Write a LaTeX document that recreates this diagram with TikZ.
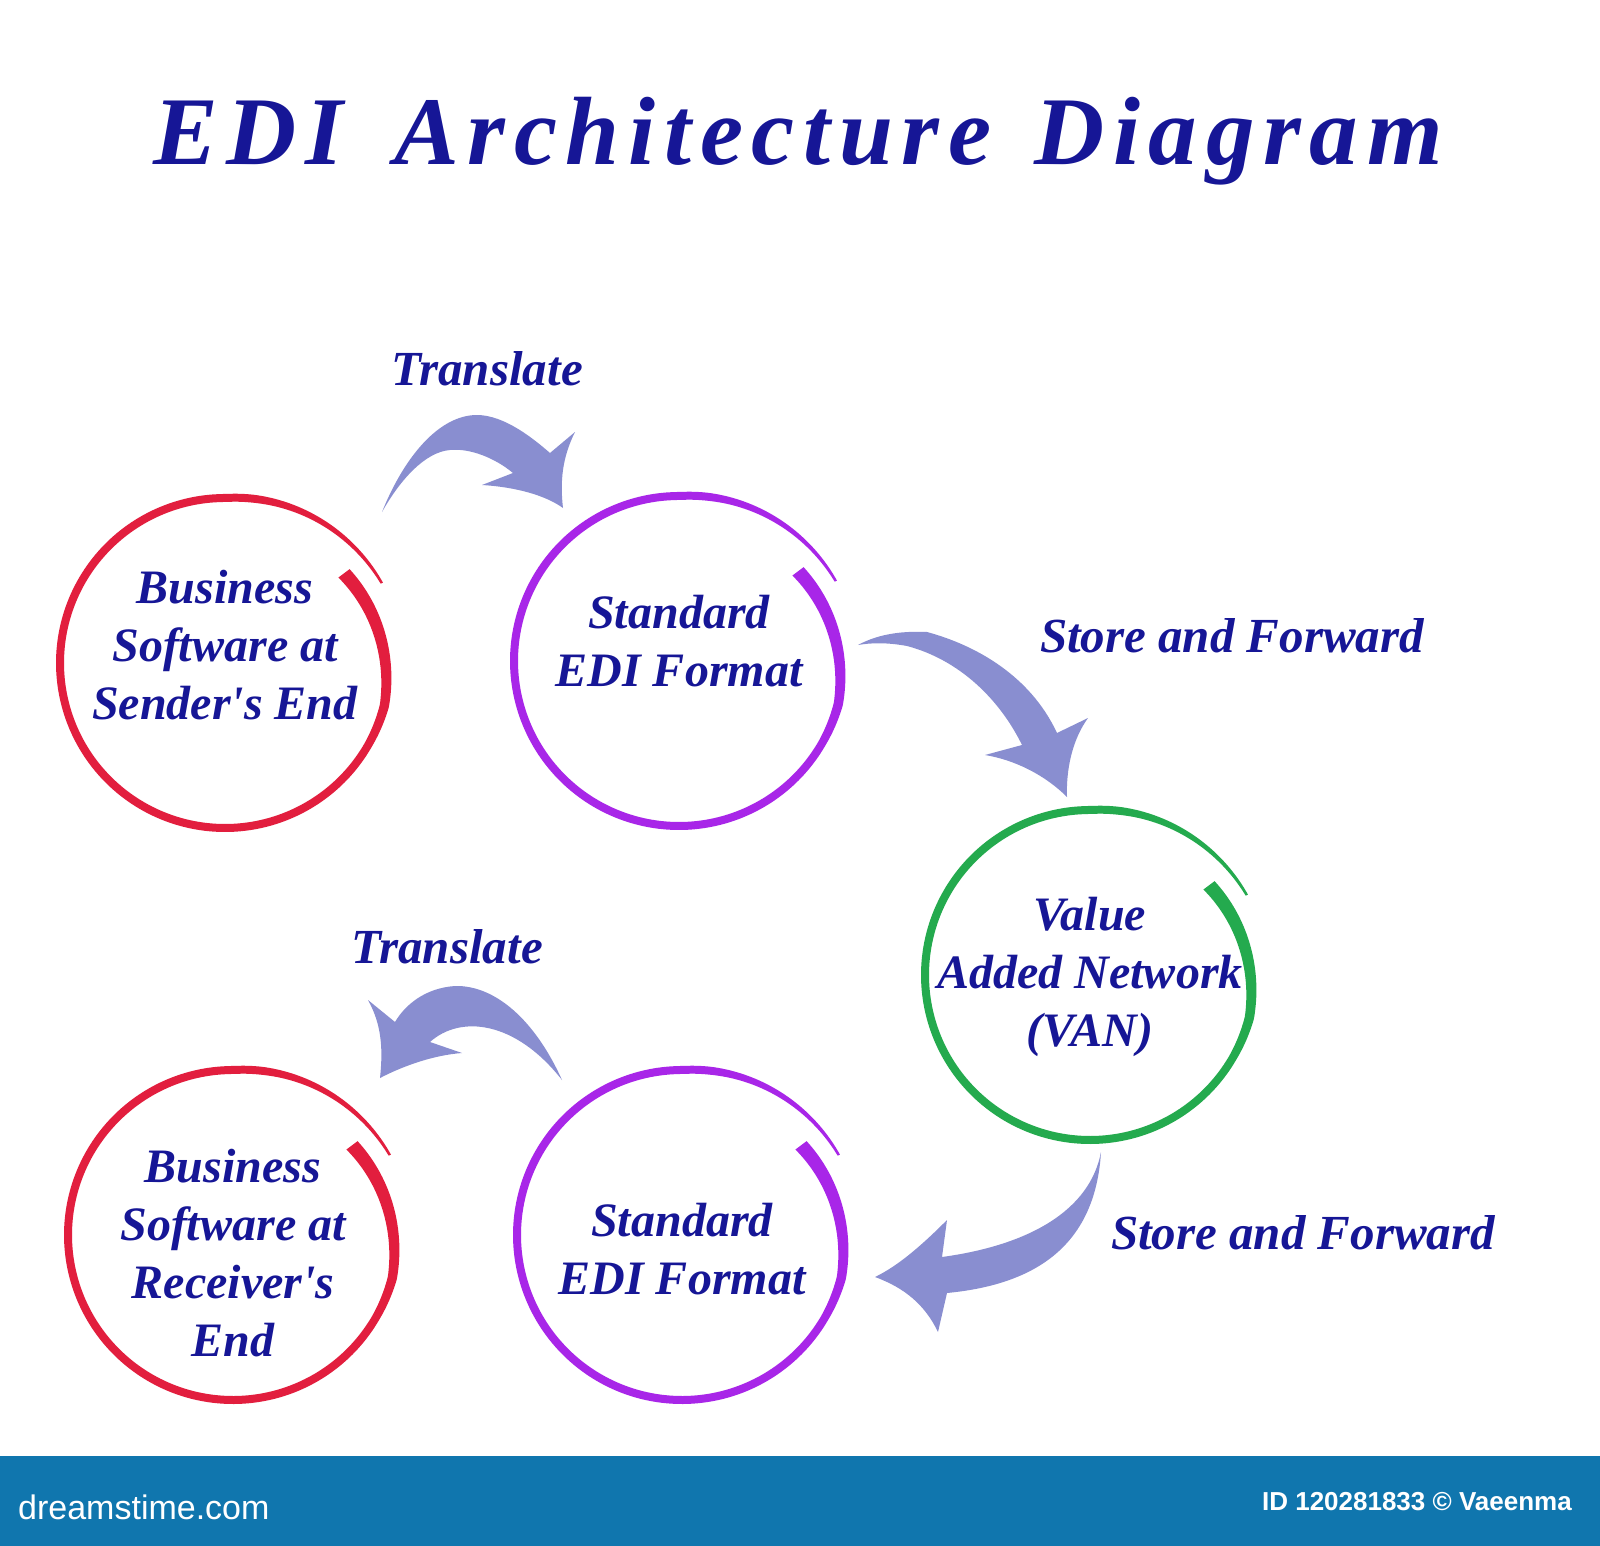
\documentclass[tikz,border=0pt]{standalone}
\usepackage{fontspec}
\setmainfont{Liberation Serif}
\newfontfamily\titlefont[LetterSpace=9]{Liberation Serif}
\newfontfamily\circfont{Liberation Serif}
\newfontfamily\barfont{Liberation Sans}
\usepackage{xcolor}
\usepackage{tikz}
\usetikzlibrary{calc}

\definecolor{ediblue}{RGB}{22,22,150}
\definecolor{edired}{RGB}{226,30,62}
\definecolor{edipurple}{RGB}{168,38,232}
\definecolor{edigreen}{RGB}{36,170,78}
\definecolor{arrowfill}{RGB}{137,142,208}
\definecolor{barblue}{RGB}{16,118,174}

\tikzset{
  declare function={ringr(\t)=165+11*max(0,(90-\t)/63)-16*max(0,(\t-345)/52);
                    ringw(\t)=8-5.5*max(0,(80-\t)/53)+6*max(0,(\t-330)/67);},
  circtext/.style={text=ediblue,align=center,font=\circfont\fontsize{48}{58}\selectfont\bfseries\itshape},
  steplabel/.style={text=ediblue,font=\circfont\fontsize{49}{58}\selectfont\bfseries\itshape},
  bendarrow/.style={fill=arrowfill}
}

\begin{document}
\begin{tikzpicture}[x=1pt,y=-1pt]
\useasboundingbox (0,0) rectangle (1600,1546);
\fill[white] (0,0) rectangle (1600,1546);

\node[anchor=base,text=ediblue,font=\titlefont\fontsize{97}{110}\selectfont\bfseries\itshape] (title) at (798,165) {EDI\hspace{18pt} Architecture\hspace{10pt} Diagram};

%% rings
\foreach \cx/\cy/\col in {225/663/edired, 679/661/edipurple, 1090/975/edigreen, 233/1235/edired, 682/1235/edipurple}
  \fill[\col,shift={(\cx,\cy)}]
    plot[domain=27:397,samples=150,smooth] ({(ringr(\x)+ringw(\x)/2)*cos(\x)},{-(ringr(\x)+ringw(\x)/2)*sin(\x)})
    -- plot[domain=397:27,samples=150,smooth] ({(ringr(\x)-ringw(\x)/2)*cos(\x)},{-(ringr(\x)-ringw(\x)/2)*sin(\x)})
    -- cycle;

\node[circtext] (sender) at (225,645) {Business\\Software at\\Sender's End};
\node[circtext] (stdtop) at (679,641) {Standard\\EDI Format};
\node[circtext] (van) at (1090,977) {Value\\Added Network\\(VAN)};
\node[circtext] (receiver) at (233,1253) {Business\\Software at\\Receiver's\\End};
\node[circtext] (stdbot) at (682,1249) {Standard\\EDI Format};

\node[steplabel] (trtop) at (487,369) {Translate};
\node[steplabel] (sftop) at (1232,636) {Store and Forward};
\node[steplabel] (trbot) at (447,947) {Translate};
\node[steplabel] (sfbot) at (1303,1233) {Store and Forward};

%% curved arrows
\coordinate (a1) at (382,512);
\fill[bendarrow] (a1) .. controls (405,455) and (440,415) .. (477,415) .. controls (505,415) and (535,440) .. (550,453)
  -- (575,432) .. controls (562,458) and (560,482) .. (563,508)
  .. controls (545,495) and (515,487) .. (482,485) -- (513,473)
  .. controls (495,458) and (470,448) .. (450,450) .. controls (425,452) and (400,480) .. (a1) -- cycle;

\coordinate (a2) at (858,645);
\fill[bendarrow] (a2) .. controls (880,633) and (905,631) .. (927,632) .. controls (975,645) and (1030,675) .. (1057,733)
  -- (1088,718) .. controls (1072,740) and (1066,770) .. (1067,797)
  .. controls (1045,775) and (1015,760) .. (985,755) -- (1022,745)
  .. controls (1000,700) and (960,660) .. (907,646) .. controls (885,642) and (870,643) .. (a2) -- cycle;

\coordinate (a3) at (1101,1152);
\fill[bendarrow] (a3) .. controls (1090,1210) and (1030,1245) .. (942,1257)
  -- (947,1220) .. controls (925,1242) and (900,1265) .. (875,1277)
  .. controls (905,1288) and (925,1305) .. (938,1332) -- (947,1293)
  .. controls (1030,1285) and (1095,1250) .. (a3) -- cycle;

\coordinate (a4) at (562,1080);
\fill[bendarrow] (a4) .. controls (535,1020) and (495,985) .. (455,986) .. controls (425,988) and (405,1005) .. (395,1022)
  -- (368,1000) .. controls (382,1025) and (383,1050) .. (380,1078)
  .. controls (405,1065) and (435,1055) .. (462,1053) -- (430,1042)
  .. controls (460,1015) and (515,1020) .. (a4) -- cycle;

%% bottom bar
\fill[barblue] (0,1456) rectangle (1600,1546);
\node[anchor=base west,text=white,inner sep=0pt,font=\barfont\fontsize{34}{40}\selectfont] (site) at (18,1519) {dreamstime.com};
\node[anchor=base east,text=white,inner sep=0pt,font=\barfont\fontsize{26}{30}\selectfont\bfseries] (stockid) at (1572,1510) {ID 120281833 © Vaeenma};
\end{tikzpicture}
\end{document}
